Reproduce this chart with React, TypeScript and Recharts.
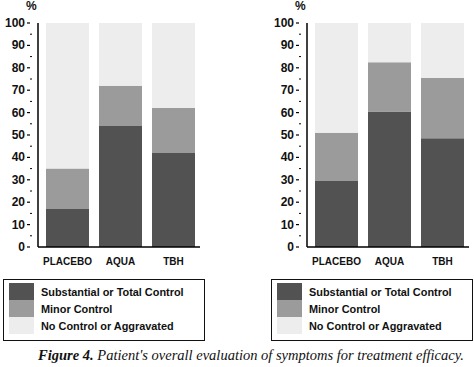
import { Bar, BarChart, XAxis, YAxis } from 'recharts'

const categories = ['PLACEBO', 'AQUA', 'TBH']
const seriesNames = ['Substantial or Total Control', 'Minor Control', 'No Control or Aggravated']

// left panel
const leftSubstantial = [17, 54, 42]
const leftMinor = [18, 18, 20]
const leftNone = [65, 28, 38]

// right panel
const rightSubstantial = [29.5, 60.5, 48.5]
const rightMinor = [21.5, 22, 27]
const rightNone = [49, 17.5, 24.5]

const yTicks = [0, 5, 10, 15, 20, 25, 30, 35, 40, 45, 50, 55, 60, 65, 70, 75, 80, 85, 90, 95, 100]

const colors = ['#525252', '#9b9b9b', '#ededed']
const sans = "'Liberation Sans', Arial, sans-serif"

function buildRows(a: number[], b: number[], c: number[]) {
  return categories.map((name, i) => ({ name, substantial: a[i], minor: b[i], none: c[i] }))
}

function YTick(props: any) {
  const { x, y, payload } = props
  const major = payload.value % 10 === 0
  if (!major) {
    return <line x1={x} x2={x + 2} y1={y} y2={y} stroke='#000' strokeWidth={1} />
  }
  return (
    <g>
      <line x1={x - 3} x2={x} y1={y} y2={y} stroke='#000' strokeWidth={1.2} />
      <text x={x - 5} y={y} dy={4} textAnchor='end' fontSize={12} fontWeight={700} fontFamily={sans} fill='#111'>
        {payload.value}
      </text>
    </g>
  )
}

function Panel({ rows, left, marginLeft, marginRight }: { rows: any[]; left: number; marginLeft: number; marginRight: number }) {
  return (
    <div style={{ position: 'absolute', left, top: 0 }}>
      <div style={{ position: 'absolute', left: marginLeft + 18, top: 0, lineHeight: '12px', fontFamily: sans, fontWeight: 700, fontSize: 12, color: '#111' }}>%</div>
      <BarChart
        width={237}
        height={270}
        data={rows}
        margin={{ top: 23, right: marginRight, bottom: 0, left: marginLeft }}
        barSize={43}
      >
        <XAxis
          dataKey='name'
          height={23}
          tickLine={false}
          axisLine={{ stroke: '#000', strokeWidth: 1.5 }}
          padding={{ left: 3, right: 0 }}
          tick={{ fontSize: 10, fontWeight: 700, fontFamily: sans, fill: '#111', dy: 3 }}
        />
        <YAxis
          width={30}
          domain={[0, 100]}
          ticks={yTicks}
          interval={0}
          tickLine={false}
          axisLine={{ stroke: '#000', strokeWidth: 1.5 }}
          tick={<YTick />}
        />
        <Bar dataKey='substantial' stackId='s' fill={colors[0]} isAnimationActive={false} />
        <Bar dataKey='minor' stackId='s' fill={colors[1]} isAnimationActive={false} />
        <Bar dataKey='none' stackId='s' fill={colors[2]} isAnimationActive={false} />
      </BarChart>
    </div>
  )
}

function LegendBox({ left }: { left: number }) {
  return (
    <div
      style={{
        position: 'absolute',
        left,
        top: 279,
        width: 202,
        height: 62,
        border: '1.5px solid #111',
        boxSizing: 'border-box',
      }}
    >
      {seriesNames.map((name, i) => (
        <div key={name} style={{ position: 'absolute', left: 5, top: 3 + i * 17, height: 17, display: 'flex', alignItems: 'center' }}>
          <div style={{ width: 25, height: 17, background: colors[i] }} />
          <span style={{ marginLeft: 7, fontFamily: sans, fontWeight: 700, fontSize: 10.9, color: '#111', whiteSpace: 'nowrap' }}>{name}</span>
        </div>
      ))}
    </div>
  )
}

export default function App() {
  return (
    <div style={{ position: 'fixed', left: 0, top: 0, width: 474, height: 367, background: '#fff', overflow: 'hidden' }}>
      <Panel rows={buildRows(leftSubstantial, leftMinor, leftNone)} left={0} marginLeft={8} marginRight={37} />
      <Panel rows={buildRows(rightSubstantial, rightMinor, rightNone)} left={237} marginLeft={40} marginRight={5} />
      <LegendBox left={3} />
      <LegendBox left={271} />
      <div
        style={{
          position: 'absolute',
          left: 14,
          width: 474,
          top: 347,
          textAlign: 'center',
          fontFamily: "'Liberation Serif', 'Times New Roman', serif",
          fontStyle: 'italic',
          fontSize: 14.5,
          color: '#111',
          whiteSpace: 'nowrap',
        }}
      >
        <b>Figure 4.</b> Patient's overall evaluation of symptoms for treatment efficacy.
      </div>
    </div>
  )
}
